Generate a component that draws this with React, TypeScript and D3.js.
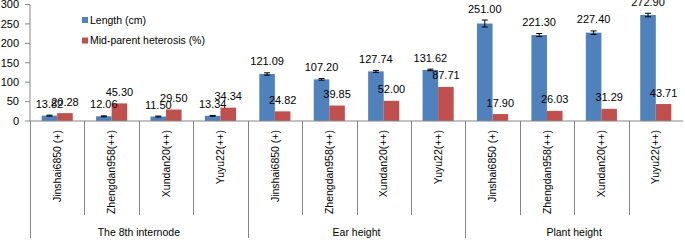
import React from "react";
import * as d3 from "d3";

const groups = ["The 8th internode", "Ear height", "Plant height"];
const varieties = ["Jinshai6850 (+)", "Zhengdan958(++)", "Xundan20(++)", "Yuyu22(++)"];
const lengthValues = [13.82, 12.06, 11.5, 13.34, 121.09, 107.2, 127.74, 131.62, 251.0, 221.3, 227.4, 272.9];
const lengthErrors = [1.2, 1.2, 1.2, 1.0, 3, 2, 2.5, 2, 9, 4, 4.5, 4.5];
const heterosisValues = [20.28, 45.3, 29.5, 34.34, 24.82, 39.85, 52.0, 87.71, 17.9, 26.03, 31.29, 43.71];
const yTicks = [0, 50, 100, 150, 200, 250, 300];
const seriesNames = ["Length (cm)", "Mid-parent heterosis (%)"];
const colors = ["#4F81BD", "#C0504D"];

const W = 685;
const H = 240;
const left = 30;
const right = 683;
const top = 4.5;
const base = 121;
const font = "Arial, 'Liberation Sans', sans-serif";

export default function App() {
  const cats = d3.range(groups.length * varieties.length);
  const x = d3.scaleBand<number>().domain(cats).range([left, right]).paddingInner(0).paddingOuter(0);
  const bw = x.bandwidth();
  const barW = bw / 3.5;
  const y = d3.scaleLinear().domain([0, 300]).range([base, top]);
  const axisColor = "#868686";
  const series = [lengthValues, heterosisValues];

  return (
    <svg width={W} height={H} style={{ position: "absolute", left: 0, top: 0 }} fontFamily={font}>
      <rect width={W} height={H} fill="#fff" />
      {/* y axis */}
      <line x1={left} x2={left} y1={top} y2={base} stroke={axisColor} />
      {yTicks.map((t) => (
        <g key={t}>
          <line x1={left - 5} x2={left} y1={y(t)} y2={y(t)} stroke={axisColor} />
          <text x={19} y={y(t)} dy="0.35em" textAnchor="end" fontSize={11} fill="#000">
            {t}
          </text>
        </g>
      ))}
      {/* bars */}
      {cats.map((c) => {
        const x0 = (x(c) as number) + (bw - 2 * barW) / 2;
        return (
          <g key={c}>
            {series.map((s, si) => (
              <rect
                key={si}
                x={x0 + si * barW}
                y={y(s[c])}
                width={barW}
                height={base - y(s[c])}
                fill={colors[si]}
              />
            ))}
          </g>
        );
      })}
      {/* error bars */}
      {cats.map((c) => {
        const cx = (x(c) as number) + (bw - 2 * barW) / 2 + barW / 2;
        const v = lengthValues[c];
        const e = lengthErrors[c];
        return (
          <g key={"e" + c} stroke="#000" strokeWidth={1}>
            <line x1={cx} x2={cx} y1={y(v - e)} y2={y(v + e)} />
            <line x1={cx - 3} x2={cx + 3} y1={y(v - e)} y2={y(v - e)} />
            <line x1={cx - 3} x2={cx + 3} y1={y(v + e)} y2={y(v + e)} />
          </g>
        );
      })}
      {/* value labels */}
      {cats.map((c) => {
        const x0 = (x(c) as number) + (bw - 2 * barW) / 2;
        return (
          <g key={"l" + c}>
            {series.map((s, si) => (
              <text
                key={si}
                x={x0 + si * barW + barW / 2}
                y={y(s[c] + (si === 0 ? lengthErrors[c] : 0)) - 7.5}
                textAnchor="middle"
                fontSize={11}
                fill="#000"
              >
                {s[c].toFixed(2)}
              </text>
            ))}
          </g>
        );
      })}
      {/* x axis */}
      <line x1={left} x2={right} y1={base} y2={base} stroke={axisColor} />
      {cats.map((c) => {
        const xs = x(c) as number;
        const isGroupStart = c % varieties.length === 0;
        return (
          <line
            key={"s" + c}
            x1={Math.round(xs) + 0.5}
            x2={Math.round(xs) + 0.5}
            y1={base}
            y2={isGroupStart ? 238 : 215}
            stroke={axisColor}
          />
        );
      })}
      {cats.map((c) => {
        const cx = (x(c) as number) + bw / 2;
        return (
          <text
            key={"c" + c}
            transform={`translate(${cx},130) rotate(-90)`}
            dy="0.35em"
            textAnchor="end"
            fontSize={10.5}
            fill="#000"
          >
            {varieties[c % varieties.length]}
          </text>
        );
      })}
      {groups.map((g, gi) => {
        const x1 = x(gi * varieties.length) as number;
        const x2 = (x(gi * varieties.length + varieties.length - 1) as number) + bw;
        return (
          <text key={g} x={(x1 + x2) / 2} y={232} dy="0.35em" textAnchor="middle" fontSize={10.5} fill="#000">
            {g}
          </text>
        );
      })}
      {/* legend */}
      {seriesNames.map((n, i) => (
        <g key={n}>
          <rect x={82} y={17 + i * 20.5} width={6} height={6} fill={colors[i]} />
          <text x={90} y={20 + i * 20.5} dy="0.35em" fontSize={10.5} fill="#000">
            {n}
          </text>
        </g>
      ))}
    </svg>
  );
}
